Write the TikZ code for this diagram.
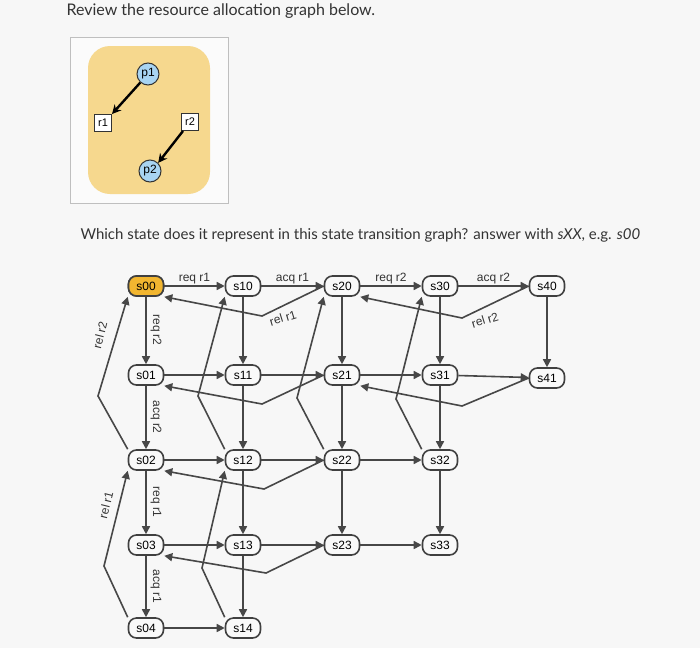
\documentclass[tikz,border=0pt]{standalone}
\usepackage{fontspec}
\setmainfont{Liberation Sans}
\newfontfamily\lato{Lato}
\usetikzlibrary{arrows.meta}
\definecolor{ragbg}{HTML}{F6D88E}
\definecolor{pblue}{HTML}{A8D4F2}
\definecolor{sorange}{HTML}{F2B630}
\begin{document}
\begin{tikzpicture}[x=1pt,y=-1pt,
  st/.style={draw=black!75,line width=1.6pt,rounded corners=8pt,minimum width=35pt,minimum height=20pt,inner sep=1pt,font=\fontsize{12}{12}\selectfont,fill=white!95!gray},
  ed/.style={draw=black!72,line width=1.6pt,-{Triangle[length=8pt,width=8pt]}},
  lb/.style={font=\fontsize{12}{12}\selectfont,text=black!80,inner sep=1pt},
  rag/.style={line width=2.4pt,-{Stealth[length=9pt,width=9pt]}}]
\fill[gray!6] (0,0) rectangle (700,648);
\useasboundingbox (0,0) rectangle (700,648);
\node[anchor=west,font=\lato\fontsize{16}{16}\selectfont,text=black!80] (t1) at (63,11) {Review the resource allocation graph below.};
\draw[black!25,fill=gray!3] (70,37) rectangle (228,203);
\fill[ragbg,rounded corners=22pt] (88,46) rectangle (210,194);
\node[circle,draw=black!80,fill=pblue,line width=1pt,inner sep=1pt,minimum size=22pt,font=\fontsize{12}{12}\selectfont] (p1) at (148,74) {p1};
\node[circle,draw=black!80,fill=pblue,line width=1pt,inner sep=1pt,minimum size=22pt,font=\fontsize{12}{12}\selectfont] (p2) at (150,171) {p2};
\node[draw=black!80,fill=white,line width=1pt,minimum size=17pt,inner sep=1pt,font=\fontsize{11}{11}\selectfont] (r1) at (103,123) {r1};
\node[draw=black!80,fill=white,line width=1pt,minimum size=17pt,inner sep=1pt,font=\fontsize{11}{11}\selectfont] (r2) at (190,122) {r2};
\draw[rag] (p1) -- (r1.north east);
\draw[rag] (r2) -- (p2.north east);
\node[anchor=west,font=\lato\fontsize{15}{15}\selectfont,text=black!80] (t2) at (77,235) {Which state does it represent in this state transition graph? answer with \textit{sXX}, e.g. \textit{s00}};
% states
\foreach \c/\x in {0/146,1/243,2/342,3/440}{
  \foreach \r/\y in {0/286,1/375,2/460,3/545}{ \node[st] (s\c\r) at (\x,\y) {s\c\r}; } }
\node[st,fill=sorange] (s00) at (146,286) {s00};
\node[st] (s04) at (146,628) {s04};
\node[st] (s14) at (243,628) {s14};
\node[st] (s40) at (547,286) {s40};
\node[st] (s41) at (547,378) {s41};
% horizontal
\draw[ed] (s00) -- node[lb,above]{req r1} (s10);
\draw[ed] (s10) -- node[lb,above]{acq r1} (s20);
\draw[ed] (s20) -- node[lb,above]{req r2} (s30);
\draw[ed] (s30) -- node[lb,above]{acq r2} (s40);
\draw[ed] (s01)--(s11); \draw[ed] (s11)--(s21); \draw[ed] (s21)--(s31); \draw[ed] (s31)--(s41);
\draw[ed] (s02)--(s12); \draw[ed] (s12)--(s22); \draw[ed] (s22)--(s32);
\draw[ed] (s03)--(s13); \draw[ed] (s13)--(s23); \draw[ed] (s23)--(s33);
\draw[ed] (s04)--(s14);
% vertical
\draw[ed] (s00) -- (s01);
\draw[ed] (s01) -- (s02);
\draw[ed] (s02) -- (s03);
\draw[ed] (s03) -- (s04);
\node[lb,rotate=-90] (l1) at (156,330) {req r2};
\node[lb,rotate=-90] (l2) at (156,417) {acq r2};
\node[lb,rotate=-90] (l3) at (156,502) {req r1};
\node[lb,rotate=-90] (l4) at (156,586) {acq r1};
\draw[ed] (s10)--(s11); \draw[ed] (s11)--(s12); \draw[ed] (s12)--(s13); \draw[ed] (s13)--(s14);
\draw[ed] (s20)--(s21); \draw[ed] (s21)--(s22); \draw[ed] (s22)--(s23);
\draw[ed] (s30)--(s31); \draw[ed] (s31)--(s32); \draw[ed] (s32)--(s33);
\draw[ed] (s40)--(s41);
% back edges rel r1 (right to left)
\coordinate (k0) at (262,316); \coordinate (k1) at (262,404);
\coordinate (k2) at (264,489); \coordinate (k3) at (266,573);
\draw[ed] (s20.west) -- (k0) -- (s00.south east);
\node[lb,rotate=17] (l5) at (283,318) {rel r1};
\draw[ed] (s21.west) -- (k1) -- (s01.south east);
\draw[ed] (s22.west) -- (k2) -- (s02.south east);
\draw[ed] (s23.west) -- (k3) -- (s03.south east);
\coordinate (m0) at (462,318); \coordinate (m1) at (462,406);
\draw[ed] (s40.west) -- (m0) -- (s20.south east);
\node[lb,rotate=17] (l6) at (485,320) {rel r2};
\draw[ed] (s41.west) -- (m1) -- (s21.south east);
% back edges upward
\coordinate (u0) at (98,396); \coordinate (u1) at (104,566);
\draw[ed] (s02.north west) -- (u0) -- (s00.south west);
\draw[ed] (s04.north west) -- (u1) -- (s02.south west);
\node[lb,rotate=76] (l7) at (100,335) {rel r2};
\node[lb,rotate=76] (l8) at (106,505) {rel r1};
\coordinate (v0) at (198,396); \coordinate (v1) at (202,568);
\coordinate (v2) at (297,398); \coordinate (v3) at (396,399);
\draw[ed] (s12.north west) -- (v0) -- (s10.south west);
\draw[ed] (s14.north west) -- (v1) -- (s12.south west);
\draw[ed] (s22.north west) -- (v2) -- (s20.south west);
\draw[ed] (s32.north west) -- (v3) -- (s30.south west);
\end{tikzpicture}
\end{document}
